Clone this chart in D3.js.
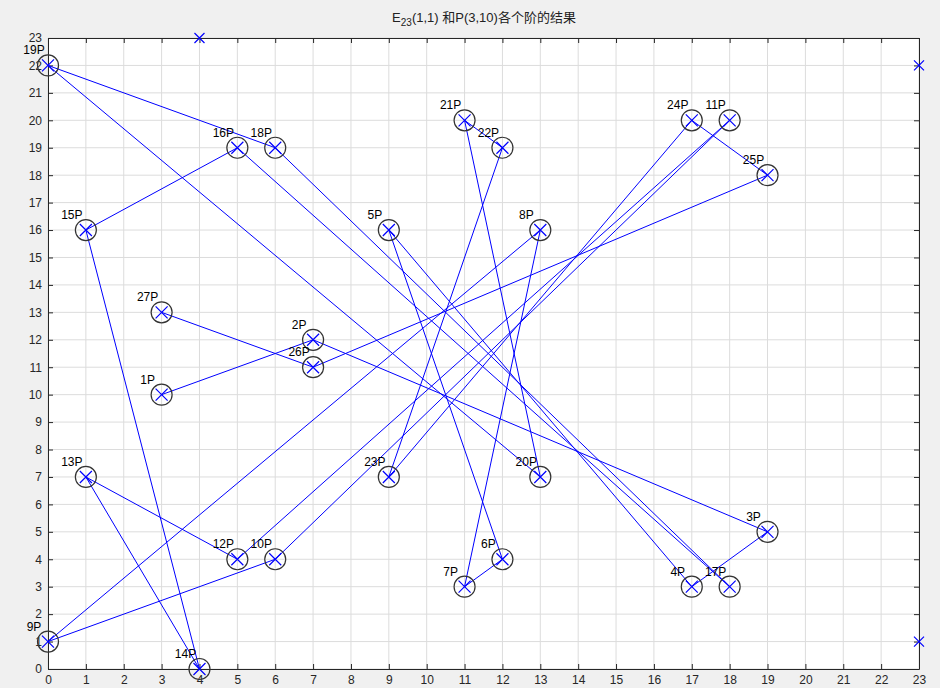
<!DOCTYPE html><html><head><meta charset="utf-8"><script src="https://d3js.org/d3.v7.min.js"></script>
<style>body{margin:0;background:#f0f0f0}</style></head><body><svg id="c" width="940" height="688"></svg><script>
const px=[3,7,19,17,9,12,11,13,0,6,18,5,1,4,1,5,18,6,0,13,11,12,9,17,19,7,3];
const py=[10,12,5,3,16,4,3,16,1,4,20,4,7,0,16,19,3,19,22,7,20,19,7,20,18,11,13];
const labels=px.map((d,i)=>(i+1)+"P");
const extraX=[4,23,23], extraY=[23,22,1];
const ticks=d3.range(0,24);
const svg=d3.select("#c");
const L=48,R=919,T=38,B=669;
const x=d3.scaleLinear().domain([0,23]).range([L,R]);
const y=d3.scaleLinear().domain([0,23]).range([B,T]);
svg.append("rect").attr("x",L).attr("y",T).attr("width",R-L).attr("height",B-T).attr("fill","#fff");
const g=svg.append("g");
ticks.forEach(t=>{
 g.append("line").attr("x1",x(t)).attr("x2",x(t)).attr("y1",T).attr("y2",B).attr("stroke","#dcdcdc");
 g.append("line").attr("y1",y(t)).attr("y2",y(t)).attr("x1",L).attr("x2",R).attr("stroke","#dcdcdc");
});
const ax=(a,tr)=>svg.append("g").attr("transform",tr).call(a).call(s=>{s.selectAll("path,line").attr("stroke","#262626");s.selectAll("text").attr("fill","#262626").style("font-family","Liberation Sans, Arial").style("font-size","12px");});
ax(d3.axisBottom(x).tickValues(ticks).tickSize(-5).tickSizeOuter(0).tickPadding(6),`translate(0,${B})`);
ax(d3.axisLeft(y).tickValues(ticks).tickSize(-5).tickSizeOuter(0).tickPadding(6),`translate(${L},0)`);
ax(d3.axisTop(x).tickValues(ticks).tickSize(-5).tickSizeOuter(0).tickFormat(""),`translate(0,${T})`);
ax(d3.axisRight(y).tickValues(ticks).tickSize(-5).tickSizeOuter(0).tickFormat(""),`translate(${R},0)`);
const pts=px.map((d,i)=>[d,py[i]]);
svg.append("path").attr("d",d3.line().x(d=>x(d[0])).y(d=>y(d[1]))(pts)).attr("fill","none").attr("stroke","#0000ff").attr("stroke-width",1);
const cross=(cx,cy,s)=>`M${cx-s},${cy-s}L${cx+s},${cy+s}M${cx-s},${cy+s}L${cx+s},${cy-s}`;
pts.forEach((p,i)=>{
 svg.append("circle").attr("cx",x(p[0])).attr("cy",y(p[1])).attr("r",10.5).attr("fill","none").attr("stroke","#333").attr("stroke-width",1.2);
 svg.append("path").attr("d",cross(x(p[0]),y(p[1]),6)).attr("stroke","#0000ff").attr("stroke-width",1.2);
 svg.append("text").attr("x",x(p[0])-14).attr("y",y(p[1])-11).attr("text-anchor","middle").style("font-family","Liberation Sans, Arial").style("font-size","12px").text(labels[i]);
});
extraX.forEach((d,i)=>svg.append("path").attr("d",cross(x(d),y(extraY[i]),5)).attr("stroke","#0000ff").attr("stroke-width",1.2));
const tt=svg.append("text").attr("x",484).attr("y",22).attr("text-anchor","middle").style("font-family","Liberation Sans, Noto Sans CJK SC").style("font-size","13px").attr("fill","#222");
tt.append("tspan").text("E");
tt.append("tspan").attr("dy",4).style("font-size","10px").text("23");
tt.append("tspan").attr("dy",-4).text("(1,1) 和P(3,10)各个阶的结果");
</script></body></html>
